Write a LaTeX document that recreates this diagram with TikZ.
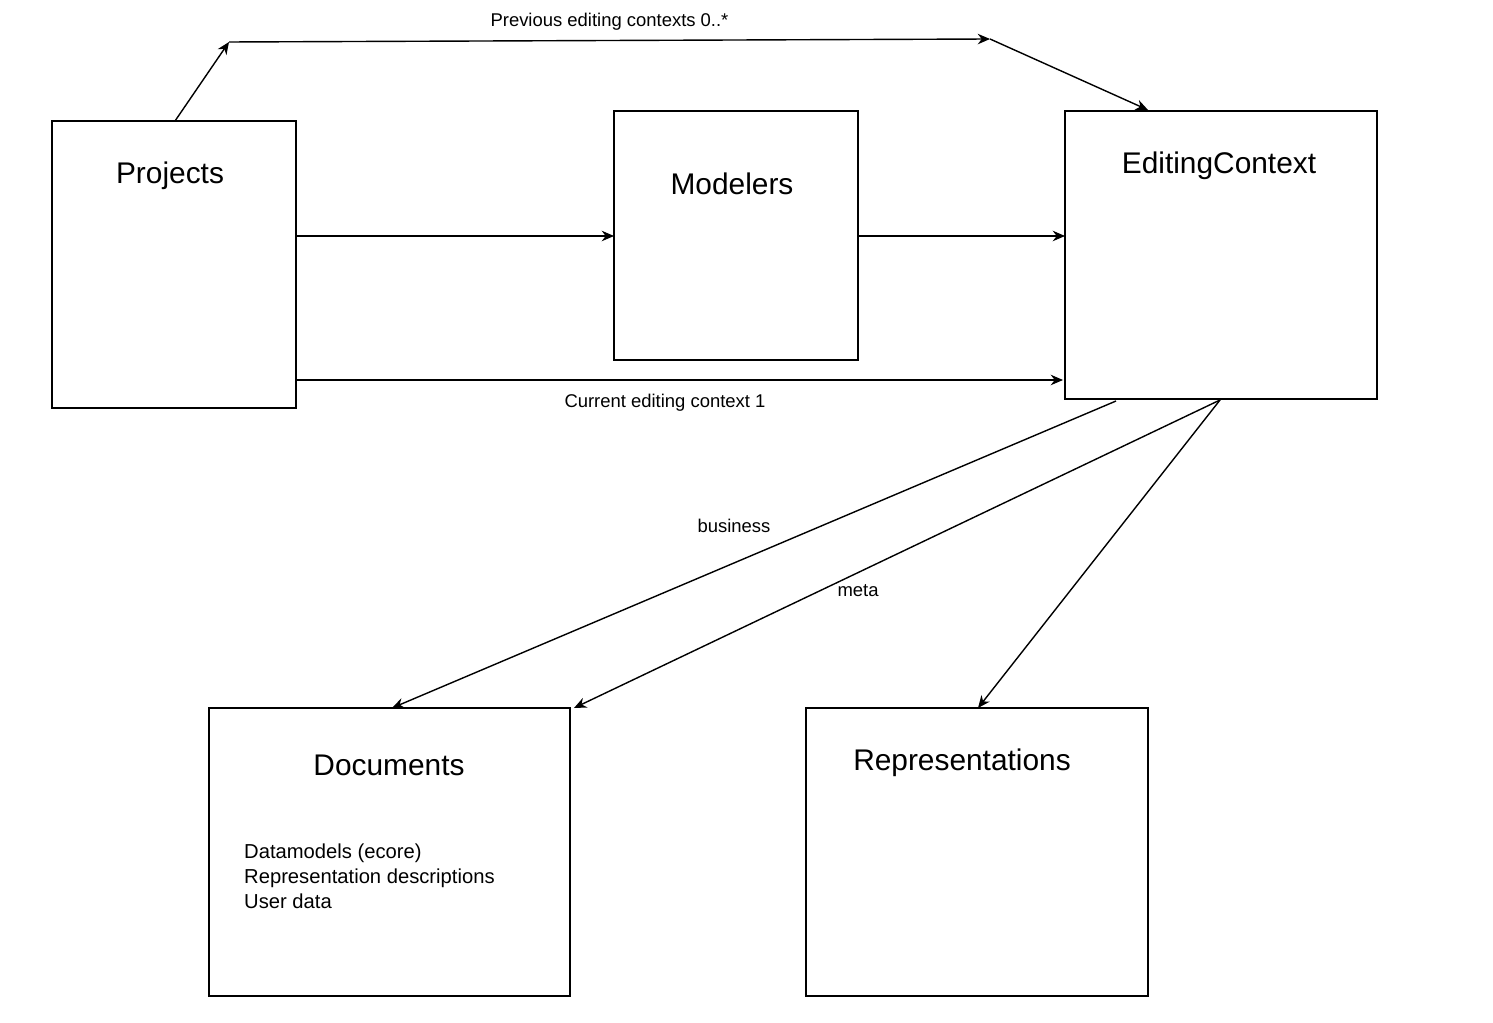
\documentclass[tikz,border=0pt]{standalone}
\usepackage{fontspec}
\setmainfont{Liberation Sans}
\usetikzlibrary{arrows.meta}
\begin{document}
\begin{tikzpicture}[x=0.02cm,y=-0.02cm,
  box/.style={draw,thick},
  title/.style={font=\fontsize{17}{20}\selectfont},
  lab/.style={font=\fontsize{10.5}{12}\selectfont},
  arr/.style={thick,-{Stealth[length=7pt,width=6pt]}}]
\useasboundingbox (0,0) rectangle (1493,1023);
\fill[white] (0,0) rectangle (1493,1023);
\draw[box] (52,121) rectangle (296,408);
\node[title] (pt) at (170,176) {Projects};
\draw[box] (614,111) rectangle (858,360);
\node[title] (mt) at (732,184) {Modelers};
\draw[box] (1065,111) rectangle (1377,399);
\node[title] (et) at (1219,166) {EditingContext};
\draw[box] (209,708) rectangle (570,996);
\node[title] (dt) at (389,765) {Documents};
\node[lab,anchor=north west,align=left,font=\fontsize{11.5}{14}\selectfont] (dl) at (238,838) {Datamodels (ecore)\\Representation descriptions\\User data};
\draw[box] (806,708) rectangle (1148,996);
\node[title] (rt) at (962,763) {Representations};
\coordinate (p1) at (175,121); \coordinate (b1) at (229,42);
\coordinate (b2) at (990,39); \coordinate (e1) at (1148,110);
\draw[arr] (p1) -- (b1);
\draw[arr] (b1) -- node[lab,above=2pt]{Previous editing contexts 0..*} (b2);
\draw[arr] (b2) -- (e1);
\coordinate (p2) at (296,236); \coordinate (m1) at (614,236);
\coordinate (m2) at (858,236); \coordinate (e2) at (1065,236);
\draw[arr] (p2) -- (m1);
\draw[arr] (m2) -- (e2);
\coordinate (p3) at (296,380); \coordinate (e3) at (1063,380);
\draw[arr] (p3) -- (e3);
\node[lab] (cl) at (665,403) {Current editing context 1};
\coordinate (e4) at (1116,401); \coordinate (d1) at (392,708);
\coordinate (e5) at (1220,400); \coordinate (d2) at (574,708);
\coordinate (r1) at (978,708);
\draw[arr] (e4) -- (d1);
\draw[arr] (e5) -- (d2);
\draw[arr] (e5) -- (r1);
\node[lab] (bl) at (734,526) {business};
\node[lab] (ml) at (858,591) {meta};
\end{tikzpicture}
\end{document}
